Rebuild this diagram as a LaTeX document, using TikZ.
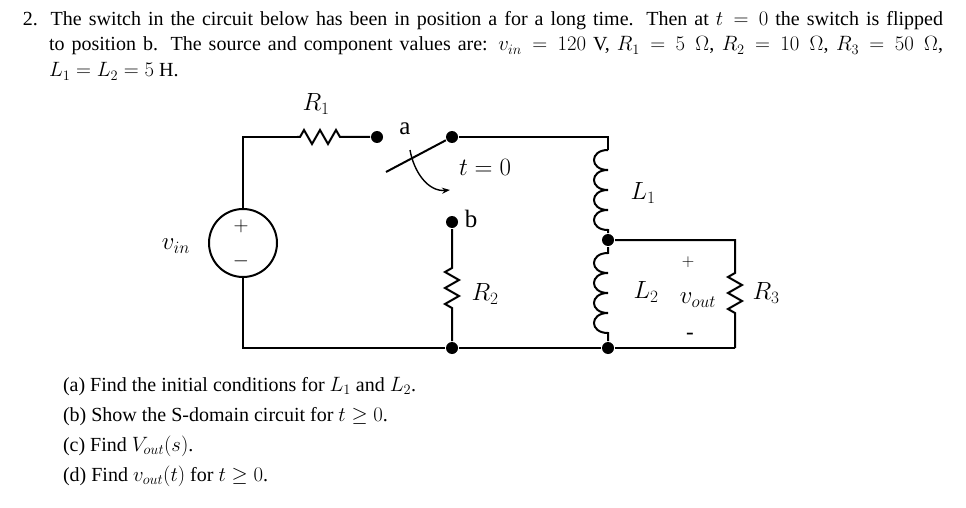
\documentclass[tikz,border=0pt]{standalone}
\usepackage{fontspec}
\setmainfont{Liberation Serif}
\usetikzlibrary{arrows.meta}
\begin{document}
\begin{tikzpicture}[x=1pt,y=-1pt,line width=2pt,
  txt/.style={inner sep=0pt,anchor=base west,font=\fontsize{20}{24}\selectfont},
  lbl/.style={inner sep=0pt,font=\fontsize{23}{26}\selectfont},
  coil/.style={out=180,in=180,looseness=2.4},
  dot/.style={circle,fill=black,inner sep=0pt,minimum size=12pt}]
\useasboundingbox[fill=white] (0,0) rectangle (966,508);
% header
\node[txt] (l1) at (22,26) {\makebox[920pt][s]{2. The switch in the circuit below has been in position a for a long time. Then at $t = 0$ the switch is flipped}};
\node[txt] (l2) at (48,51) {\makebox[894pt][s]{to position b. The source and component values are: $v_{in} = 120$ V, $R_1 = 5\;\Omega$, $R_2 = 10\;\Omega$, $R_3 = 50\;\Omega$,}};
\node[txt] (l3) at (48,77) {$L_1 = L_2 = 5$ H.};
\node[txt] (qa) at (62,391) {(a) Find the initial conditions for $L_1$ and $L_2$.};
\node[txt] (qb) at (62,421) {(b) Show the S-domain circuit for $t\geq 0$.};
\node[txt] (qc) at (62,451) {(c) Find $V_{out}(s)$.};
\node[txt] (qd) at (62,481) {(d) Find $v_{out}(t)$ for $t\geq 0$.};
% coordinates
\coordinate (tl) at (243,137);
\coordinate (bl) at (243,348);
\node[draw,circle,minimum size=68pt,inner sep=0pt] (src) at (243,243) {};
\node[lbl,font=\fontsize{20}{24}\selectfont] at (241,226) {$+$};
\node[lbl,font=\fontsize{20}{24}\selectfont] at (241,261) {$-$};
\node[lbl] (vin) at (176,246) {$v_{in}$};
\coordinate (r1a) at (297,137);
\coordinate (r1b) at (342,137);
\node[dot] (a) at (377,137) {};
\node[lbl,font=\fontsize{25}{28}\selectfont] (alab) at (405,129) {a};
\node[dot] (piv) at (452,137) {};
\coordinate (tr) at (608,137);
\node[dot] (b) at (452,222) {};
\node[lbl,font=\fontsize{25}{28}\selectfont] (blab) at (471,219) {b};
\coordinate (r2a) at (452,265);
\coordinate (r2b) at (452,312);
\node[dot] (bm) at (452,348) {};
\node[dot] (mid) at (608,240) {};
\node[dot] (br) at (608,348) {};
\coordinate (rt) at (735,240);
\coordinate (rb) at (735,348);
\coordinate (r3a) at (735,270);
\coordinate (r3b) at (735,318);
\coordinate (swend) at (386,172);
% wires
\draw (src.north) -- (tl) -- (r1a);
\draw (r1a) -- ++(3,0) -- ++(4,-7) -- ++(8,14) -- ++(8,-14) -- ++(8,14) -- ++(8,-14) -- ++(4,7) -- (r1b) -- (a);
\draw (piv) -- (tr) -- (608,150);
\draw (608,150) to[coil] (608,170) to[coil] (608,190) to[coil] (608,210) to[coil] (608,230) -- (mid);
\draw (mid) -- (608,253) to[coil] (608,273) to[coil] (608,293) to[coil] (608,313) to[coil] (608,333) -- (br);
\draw (mid) -- (rt) -- (r3a) -- ++(0,3) -- ++(-7,4) -- ++(14,8) -- ++(-14,8) -- ++(14,8) -- ++(-14,8) -- ++(7,4) -- (r3b) -- (rb);
\draw (src.south) -- (bl) -- (bm) -- (br) -- (rb);
\draw (b) -- (r2a) -- ++(0,3) -- ++(-7,4) -- ++(14,8) -- ++(-14,8) -- ++(14,8) -- ++(-14,8) -- ++(7,4) -- (r2b) -- (bm);
% switch
\draw (piv) -- (swend);
\draw[line width=1.4pt,-{Stealth[length=8pt]}] (410,150) to[out=-80,in=185] (450,190);
\node[lbl] (t0) at (485,167) {$t=0$};
% labels
\node[lbl] (R1) at (316,104) {$R_1$};
\node[lbl] (R2) at (485,294) {$R_2$};
\node[lbl] (L1) at (643,193) {$L_1$};
\node[lbl] (L2) at (646,292) {$L_2$};
\node[lbl] (R3) at (766,293) {$R_3$};
\node[lbl,font=\fontsize{19}{22}\selectfont] (pl) at (688,262) {$+$};
\node[lbl] (vout) at (698,300) {$v_{out}$};
\node[lbl] (mn) at (690,336) {-};
\end{tikzpicture}
\end{document}
